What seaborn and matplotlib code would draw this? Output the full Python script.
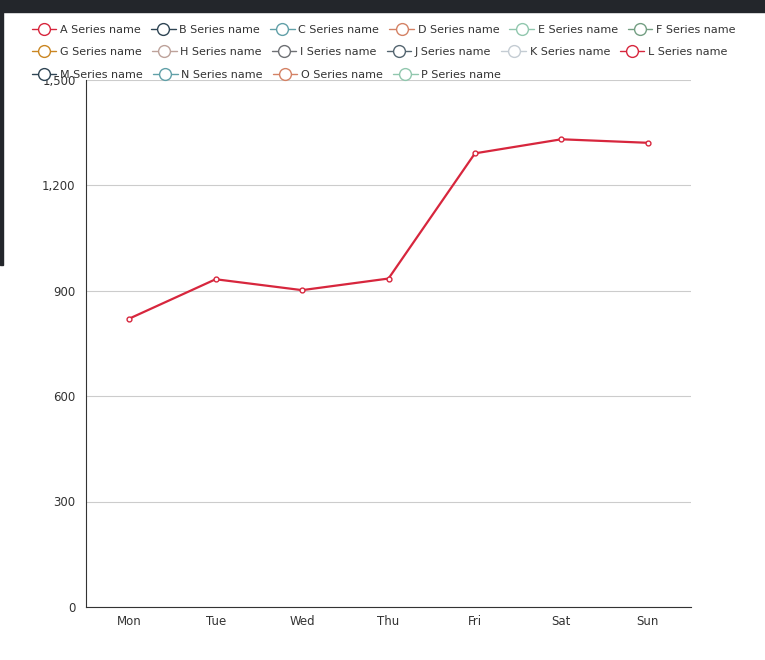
import matplotlib
matplotlib.use("Agg")
import matplotlib.pyplot as plt
from matplotlib.lines import Line2D
import matplotlib.patches as mpatches
import seaborn as sns
import pandas as pd
import numpy as np

days = ["Mon", "Tue", "Wed", "Thu", "Fri", "Sat", "Sun"]
values = [820, 932, 901, 934, 1290, 1330, 1320]
series_names = [f"{c} Series name" for c in "ABCDEFGHIJKLMNOP"]
series_colors = ["#d7263d", "#2f4554", "#61a0a8", "#d48265", "#91c7ae", "#749f83",
                 "#ca8622", "#bda29a", "#6e7074", "#546570", "#c4ccd3", "#d7263d",
                 "#2f4554", "#61a0a8", "#d48265", "#91c7ae"]
yticks = [0, 300, 600, 900, 1200, 1500]

sns.set_style("white")
plt.rcParams['font.family'] = ['DejaVu Sans']
fig = plt.figure(figsize=(7.65, 6.6), dpi=100)
fig.patches.append(mpatches.Rectangle((0, 1 - 12/660), 1, 12/660, transform=fig.transFigure, color="#23262b", zorder=0))
fig.patches.append(mpatches.Rectangle((0, 1 - 265/660), 3/765, 265/660, transform=fig.transFigure, color="#23262b", zorder=0))

ax = fig.add_axes([86/765, 53/660, 605/765, 527.5/660])
df = pd.DataFrame({"x": np.arange(len(days)), "v": values})
sns.lineplot(data=df, x="x", y="v", ax=ax, color="#d7263d", lw=1.6,
             marker="o", markersize=3.5, markerfacecolor="white", markeredgecolor="#d7263d", markeredgewidth=1)
ax.set_xlim(-0.5, len(days) - 0.5)
ax.set_ylim(0, 1500)
ax.set_xticks(range(len(days)))
ax.set_xticklabels(days, fontsize=8.5, color="#333333")
ax.set_xticks(np.arange(-0.5, len(days)), minor=True)
ax.tick_params(axis="x", which="major", length=0, pad=6)
ax.tick_params(axis="x", which="minor", length=4, color="#333333")
ax.set_yticks(yticks)
ax.set_yticklabels([f"{t:,}" for t in yticks], fontsize=8.5, color="#333333")
ax.tick_params(axis="y", length=4, color="#333333")
ax.yaxis.grid(True, color="#cccccc", lw=0.8)
ax.set_xlabel(""); ax.set_ylabel("")
for s in ["top", "right"]:
    ax.spines[s].set_visible(False)
for s in ["left", "bottom"]:
    ax.spines[s].set_color("#333333"); ax.spines[s].set_linewidth(0.8)

handles = [Line2D([], [], color=c, lw=1, marker="o", markersize=8.5, markerfacecolor="white",
                  markeredgecolor=c, markeredgewidth=1) for c in series_colors]
rows = [(0, 6, 30), (6, 12, 52), (12, 16, 75)]
for a, b, y in rows:
    leg = fig.legend(handles[a:b], series_names[a:b], loc="center left",
                     bbox_to_anchor=(32/765, 1 - y/660), ncol=b - a, frameon=False,
                     fontsize=8, handlelength=2.2, handletextpad=0.35, columnspacing=0.9,
                     borderaxespad=0, borderpad=0)
    for t in leg.get_texts():
        t.set_color("#333333")
fig.savefig("out.png", dpi=100)
